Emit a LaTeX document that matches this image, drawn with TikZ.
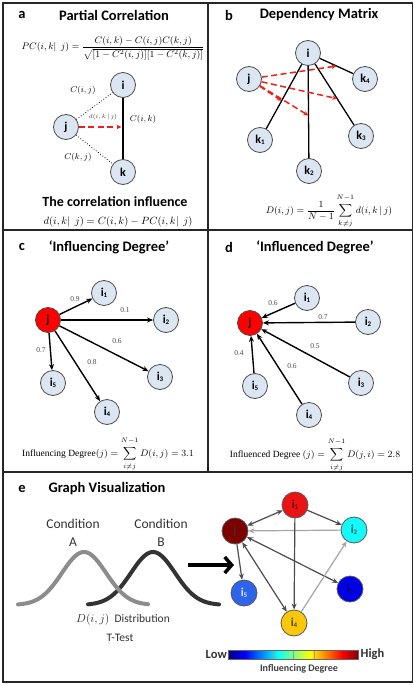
\documentclass[tikz,border=0pt]{standalone}
\usepackage{fix-cm}
\usepackage{amsmath}
\usepackage[no-math]{fontspec}
\setmainfont{Carlito}
\newfontfamily\tnr{Liberation Serif}
\usetikzlibrary{arrows.meta,calc}
\definecolor{nodeblue}{HTML}{DCE6F2}
\definecolor{redfill}{HTML}{FF0000}
\definecolor{dashred}{HTML}{E8231E}
\definecolor{eRed}{RGB}{235,20,20}
\definecolor{eMaroon}{RGB}{125,0,0}
\definecolor{eCyan}{RGB}{20,250,250}
\definecolor{eRoyal}{RGB}{45,100,235}
\definecolor{eBlue}{RGB}{0,0,230}
\definecolor{eGold}{RGB}{250,200,10}
\newcommand{\nsub}[2]{#1\raisebox{-0.25ex}{\fontsize{7}{7}\selectfont #2}}
\newcommand{\uplim}{\raisebox{2.5pt}{$\scriptstyle N-1$}}
\newcommand{\lowlim}[1]{\raisebox{-2pt}{$\scriptstyle #1$}}
\tikzset{
  frameline/.style={line width=1.3pt, black!85},
  ptitle/.style={font=\bfseries\fontsize{14.5}{15}\selectfont, inner sep=0pt},
  bnode/.style={circle, draw=black!70, fill=nodeblue, line width=0.8pt, minimum size=25pt, inner sep=0pt, font=\bfseries\fontsize{12}{12}\selectfont},
  rnode/.style={bnode, fill=redfill},
  enode/.style={circle, draw=black!65, line width=0.8pt, minimum size=26pt, inner sep=0pt, font=\bfseries\fontsize{12}{12}\selectfont, fill=#1, text=#1!45!black},
  solidedge/.style={line width=1.3pt, black},
  dotedge/.style={line width=0.8pt, black, dotted},
  reddash/.style={line width=1.5pt, dashred, dash pattern=on 6pt off 3.5pt, -{Stealth[length=5pt,width=4.5pt]}},
  blackarrow/.style={line width=1.4pt, black, -{Stealth[length=6pt,width=5pt]}},
  darkedge/.style={line width=1.2pt, black!70, -{Stealth[length=6pt,width=5pt]}},
  lightedge/.style={line width=1.2pt, black!35, -{Stealth[length=6pt,width=5pt]}},
  numlab/.style={font=\tnr\fontsize{7.5}{8}\selectfont, text=black!70, inner sep=0pt},
  mlab/.style={font=\fontsize{8.5}{9}\selectfont, inner sep=0pt},
  formula/.style={font=\fontsize{9.5}{10}\selectfont, inner sep=0pt},
  ctext/.style={font=\fontsize{13.5}{14}\selectfont, text=black!80, inner sep=0pt},
}
\begin{document}
\begin{tikzpicture}[x=1pt,y=-1pt]
\useasboundingbox (0,0) rectangle (414,685);
\fill[white] (0,0) rectangle (414,685);
% frame
\draw[frameline] (3,3) rectangle (412.5,682);
\draw[frameline] (208,3) -- (208,472);
\draw[frameline] (3,230) -- (412.5,230);
\draw[frameline] (3,472) -- (412.5,472);

% ---------- panel a ----------
\node[ptitle] (ta) at (22,15) {a};
\node[ptitle] (tta) at (114,15) {Partial Correlation};
\node[formula] (fa) at (113,48) {$PC(i,k|\;\,j)=\dfrac{C(i,k)-C(i,j)C(k,j)}{\sqrt{[1-C^2(i,j)][1-C^2(k,j)]}}$};
\node[bnode] (ai) at (123,85) {i};
\node[bnode] (aj) at (66,127) {j};
\node[bnode] (ak) at (123,172) {k};
\coordinate (am) at (121.5,127);
\draw[solidedge] (ai) -- (ak);
\draw[dotedge] (aj) -- (ai);
\draw[dotedge] (aj) -- (ak);
\draw[reddash] (aj) -- (am);
\node[mlab] (la1) at (83,90) {$C(i,j)$};
\node[mlab] (la2) at (78,157) {$C(k,j)$};
\node[mlab] (la3) at (143,119) {$C(i,k)$};
\node[font=\fontsize{6}{6}\selectfont, inner sep=0pt, text=black!80] (la4) at (103,117) {$d(i,k\,|\,j)$};
\node[font=\bfseries\fontsize{14}{15}\selectfont, inner sep=0pt] (tca) at (115,202) {The correlation influence};
\node[font=\fontsize{10.5}{11}\selectfont, inner sep=0pt] (fa2) at (118,222) {$d(i,k|\;\,j)=C(i,k)-PC(i,k|\;\,j)$};

% ---------- panel b ----------
\node[ptitle] (tb) at (229,15) {b};
\node[ptitle] (ttb) at (319,15) {Dependency Matrix};
\node[bnode] (bi) at (308,53) {i};
\node[bnode] (bj) at (249,79) {j};
\node[bnode] (bk4) at (365,79) {\nsub{k}{4}};
\node[bnode] (bk1) at (260,140) {\nsub{k}{1}};
\node[bnode] (bk2) at (309,171) {\nsub{k}{2}};
\node[bnode] (bk3) at (361,136) {\nsub{k}{3}};
\draw[solidedge] (bi) -- (bk1);
\draw[solidedge] (bi) -- (bk2);
\draw[solidedge] (bi) -- (bk3);
\draw[solidedge] (bi) -- (bk4);
\coordinate (bm4) at ($(bi)!0.5!(bk4)$);
\coordinate (bm3) at ($(bi)!0.55!(bk3)$);
\coordinate (bm2) at ($(bi)!0.53!(bk2)$);
\coordinate (bm1) at ($(bi)!0.55!(bk1)$);
\draw[reddash] (bj) -- (bm4);
\draw[reddash] (bj) -- (bm3);
\draw[reddash] (bj) -- (bm2);
\draw[reddash] (bj) -- (bm1);
\node[formula] (fb) at (329,211) {$D(i,j)=\dfrac{1}{N-1}\displaystyle\sum_{\lowlim{k\neq j}}^{\uplim}d(i,k\,|\,j)$};

% ---------- panel c ----------
\node[ptitle] (tc) at (22,247) {c};
\node[ptitle] (ttc) at (109,247) {‘Influencing Degree’};
\node[rnode] (cj) at (48,320) {j};
\node[bnode] (ci1) at (104,293) {\nsub{i}{1}};
\node[bnode] (ci2) at (166,320) {\nsub{i}{2}};
\node[bnode] (ci3) at (160,377) {\nsub{i}{3}};
\node[bnode] (ci4) at (107,412) {\nsub{i}{4}};
\node[bnode] (ci5) at (53,383) {\nsub{i}{5}};
\draw[blackarrow] (cj) -- (ci1);
\draw[blackarrow] (cj) -- (ci2);
\draw[blackarrow] (cj) -- (ci3);
\draw[blackarrow] (cj) -- (ci4);
\draw[blackarrow] (cj) -- (ci5);
\node[numlab] (lc1) at (75,299) {0.9};
\node[numlab] (lc2) at (125,310) {0.1};
\node[numlab] (lc3) at (117,341) {0.6};
\node[numlab] (lc4) at (92,362) {0.8};
\node[numlab] (lc5) at (41,350) {0.7};
\node[formula] (fc) at (108,454) {{\tnr Influencing Degree}$(j)=\displaystyle\sum_{\lowlim{i\neq j}}^{\uplim}D(i,j)=3.1$};

% ---------- panel d ----------
\node[ptitle] (td) at (229,247) {d};
\node[ptitle] (ttd) at (315,247) {‘Influenced Degree’};
\node[rnode] (dj) at (250,323) {j};
\node[bnode] (di1) at (307,298) {\nsub{i}{1}};
\node[bnode] (di2) at (368,322) {\nsub{i}{2}};
\node[bnode] (di3) at (361,383) {\nsub{i}{3}};
\node[bnode] (di4) at (309,415) {\nsub{i}{4}};
\node[bnode] (di5) at (255,386) {\nsub{i}{5}};
\draw[blackarrow] (di1) -- (dj);
\draw[blackarrow] (di2) -- (dj);
\draw[blackarrow] (di3) -- (dj);
\draw[blackarrow] (di4) -- (dj);
\draw[blackarrow] (di5) -- (dj);
\node[numlab] (ld1) at (273,303) {0.6};
\node[numlab] (ld2) at (323,317) {0.7};
\node[numlab] (ld3) at (315,346) {0.5};
\node[numlab] (ld4) at (292,366) {0.6};
\node[numlab] (ld5) at (239,353) {0.4};
\node[formula] (fd) at (315,455) {{\tnr Influenced Degree }$(j)=\displaystyle\sum_{\lowlim{i\neq j}}^{\uplim}D(j,i)=2.8$};

% ---------- panel e ----------
\node[ptitle] (te) at (22,489) {e};
\node[ptitle] (tte) at (107,489) {Graph Visualization};
\node[ctext] (cA1) at (73,524) {Condition};
\node[ctext] (cA2) at (73,542) {A};
\node[ctext] (cB1) at (161,524) {Condition};
\node[ctext] (cB2) at (161,542) {B};
\draw[line width=4pt, black!80, line cap=round] plot[domain=88:219, samples=80, smooth] (\x, {605-53*exp(-((\x-153)/22)^2/2)});
\draw[line width=4pt, black!45, line cap=round] plot[domain=18:148, samples=80, smooth] (\x, {605-53*exp(-((\x-84)/22)^2/2)});
\node[font=\fontsize{11.5}{12}\selectfont, text=black!80, inner sep=0pt] (dist) at (123,620) {$D(i,j)$~ Distribution};
\node[font=\fontsize{11.5}{12}\selectfont, text=black!80, inner sep=0pt] (tt) at (120,638) {T-Test};
\coordinate (arS) at (188,565);
\coordinate (arE) at (234,565);
\draw[line width=3.5pt, black, -{Straight Barb[length=7pt,width=16pt,line width=3.5pt]}] (arS) -- (arE);

\node[enode=eRed] (ei1) at (295,505) {\nsub{i}{1}};
\node[enode=eMaroon, text=black!80] (ej) at (235,531) {j};
\node[enode=eCyan, text=eCyan!40!black] (ei2) at (354,530) {\nsub{i}{2}};
\node[enode=eRoyal, text=white!85!eRoyal] (ei5) at (244,593) {\nsub{i}{5}};
\node[enode=eBlue] (ei3) at (350,589) {\nsub{i}{3}};
\node[enode=eGold, text=eGold!35!black] (ei4) at (294,623) {\nsub{i}{4}};
\draw[darkedge, {Stealth[length=6pt,width=5pt]}-{Stealth[length=6pt,width=5pt]}] (ej) -- (ei1);
\draw[darkedge] (ei1) -- (ei2);
\draw[lightedge] (ei2) -- (ej);
\draw[darkedge, {Stealth[length=6pt,width=5pt]}-{Stealth[length=6pt,width=5pt]}] (ej) -- (ei3);
\draw[darkedge] (ej) -- (ei5);
\draw[darkedge, {Stealth[length=6pt,width=5pt]}-{Stealth[length=6pt,width=5pt]}] (ej) -- (ei4);
\draw[darkedge] (ei1) -- (ei4);
\draw[lightedge] (ei4) -- (ei2);

% colour bar
\shade[left color={rgb,1:red,0;green,0;blue,0.55}, right color={rgb,1:red,0;green,0;blue,1}] (228.5,650) rectangle (244.75,659);
\shade[left color={rgb,1:red,0;green,0;blue,1}, right color={rgb,1:red,0;green,1;blue,1}] (244.75,650) rectangle (277.25,659);
\shade[left color={rgb,1:red,0;green,1;blue,1}, right color={rgb,1:red,1;green,1;blue,0}] (277.25,650) rectangle (309.75,659);
\shade[left color={rgb,1:red,1;green,1;blue,0}, right color={rgb,1:red,1;green,0;blue,0}] (309.75,650) rectangle (342.25,659);
\shade[left color={rgb,1:red,1;green,0;blue,0}, right color={rgb,1:red,0.5;green,0;blue,0}] (342.25,650) rectangle (358.5,659);
\draw[black!40, line width=0.3pt] (271.7,650) -- (271.7,659);
\draw[black!40, line width=0.3pt] (293.3,650) -- (293.3,659);
\draw[black!40, line width=0.3pt] (314.3,650) -- (314.3,659);
\draw[black!60, line width=0.5pt] (228.5,650) rectangle (358.5,659);
\node[font=\bfseries\fontsize{12.5}{13}\selectfont, text=black!80, inner sep=0pt, anchor=east] (low) at (227,654.5) {Low};
\node[font=\bfseries\fontsize{12.5}{13}\selectfont, text=black!80, inner sep=0pt, anchor=west] (high) at (360.5,654.5) {High};
\node[font=\bfseries\fontsize{10}{10}\selectfont, text=black!75, inner sep=0pt] (idg) at (299,669) {Influencing Degree};
\end{tikzpicture}
\end{document}
